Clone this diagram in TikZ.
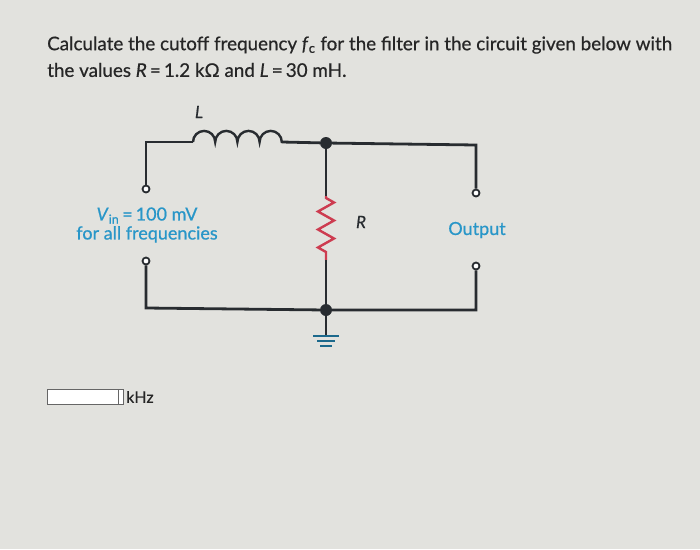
\documentclass[tikz,border=0pt]{standalone}
\usepackage{fontspec}
\setmainfont{Lato}[FakeBold=0.6]
\definecolor{wire}{RGB}{40,44,48}
\definecolor{res}{RGB}{205,60,80}
\definecolor{lbl}{RGB}{40,150,200}
\definecolor{bg}{RGB}{226,226,222}
\begin{document}
\begin{tikzpicture}[x=1pt,y=-1pt,
  w/.style={draw=wire,line width=2.8pt},
  term/.style={circle,draw=wire,line width=1.8pt,fill=white,inner sep=0pt,minimum size=7pt},
  dot/.style={circle,fill=wire,inner sep=0pt,minimum size=12pt},
  txt/.style={anchor=west,inner sep=0pt,font=\fontsize{18.8}{22}\selectfont,text=black!85}]
\fill[bg] (0,0) rectangle (700,549);
\useasboundingbox (0,0) rectangle (700,549);
% question
\node[txt] (q1) at (47,45) {Calculate the cutoff frequency \textit{f}\textsubscript{c} for the filter in the circuit given below with};
\node[txt] (q2) at (47,70) {the values \textit{R}\,=\,1.2 kΩ and \textit{L}\,=\,30 mH.};
% circuit nodes
\coordinate (tl) at (146,142);
\coordinate (l1) at (193,142);
\coordinate (l2) at (282,142);
\node[dot] (nt) at (326,143) {};
\coordinate (tr) at (476,145);
\node[term] (o1) at (476,193) {};
\node[term] (o2) at (476,266) {};
\coordinate (br) at (476,310);
\node[dot] (nb) at (326,310) {};
\coordinate (bl) at (146,308);
\node[term] (i1) at (146,189) {};
\node[term] (i2) at (146,261) {};
\coordinate (r1) at (326,196);
\coordinate (r2) at (326,260);
\coordinate (g) at (326,335);
% wires
\draw[w] (i1) -- (tl) -- (l1);
\draw[w,line width=2.4pt] (l1) \foreach \k in {0,1,2,3}{ arc[start angle=180,end angle=360,radius=11.1] } -- (l2);
\draw[w] (l2) -- (nt) -- (tr) -- (o1);
\draw[w] (nt) -- (r1);
\draw[draw=res,line width=2.4pt] (r1) -- ++(0,2) -- ++(8,4.5) -- ++(-16,9) -- ++(16,9) -- ++(-16,9) -- ++(16,9) -- ++(-16,9) -- ++(8,4.5) -- (r2);
\draw[w] (r2) -- (nb);
\draw[w] (i2) -- (bl) -- (nb) -- (br) -- (o2);
\draw[w] (nb) -- (g);
\draw[draw=lbl!70!black,line width=2.2pt] (313,336) -- (339,336) (317,341) -- (335,341) (320,346) -- (332,346);
% labels
\node[font=\itshape\fontsize{17}{20}\selectfont,text=wire] (lL) at (199,112) {L};
\node[font=\itshape\fontsize{17}{20}\selectfont,text=wire] (lR) at (361,222) {R};
\node[font=\fontsize{18}{20}\selectfont,text=lbl,align=center,inner sep=0pt] (vin) at (147,225) {\textit{V}\textsubscript{in}\,=\,100 mV\\[-1pt] for all frequencies};
\node[font=\fontsize{18}{20}\selectfont,text=lbl] (out) at (477,230) {Output};
% answer box
\draw[fill=white,draw=black!60,line width=1pt] (47,389) rectangle (118,404);
\draw[fill=white,draw=black!60,line width=1pt] (118,389) rectangle (123,404);
\node[txt,font=\fontsize{16}{18}\selectfont] (khz) at (126,397) {kHz};
\end{tikzpicture}
\end{document}
